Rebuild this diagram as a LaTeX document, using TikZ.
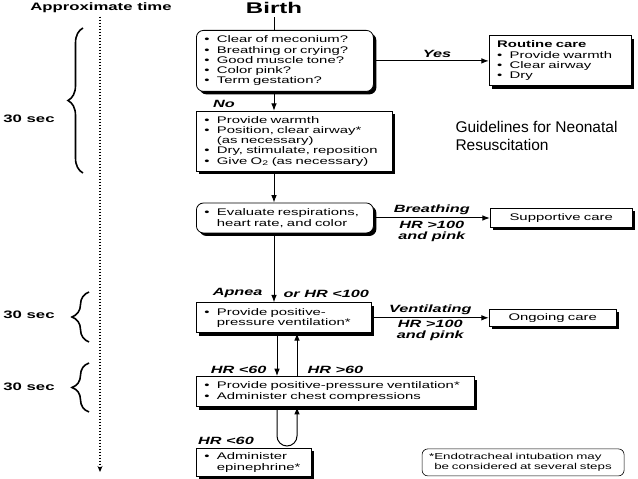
\documentclass[tikz,border=0pt]{standalone}
\usepackage{fontspec}
\setmainfont{Liberation Sans}[FakeStretch=1.55]
\newfontfamily\plainsans{Liberation Sans}
\usetikzlibrary{positioning, shadows, arrows.meta, decorations.pathreplacing, calc}

\newcommand{\bl}{\makebox[12.5pt][l]{\textbullet}}
\newcommand{\cont}{\hspace*{12.5pt}}

\begin{document}
\begin{tikzpicture}[
    x=1pt, y=1pt,
    >=LaTeX, % Use default LaTeX arrows
    % Styles
    stepbox/.style={
        rectangle,
        draw,
        line width=0.8pt,
        fill=white,
        align=left,
        inner xsep=8pt,
        inner ysep=2pt,
        font=\fontsize{9.6}{10.3}\selectfont,
        drop shadow={shadow xshift=3pt, shadow yshift=-3pt, fill=black, opacity=1}
    },
    roundbox/.style={ % Rounded decision box
        stepbox,
        rounded corners=2.5mm
    },
    outbox/.style={
        stepbox,
        align=center
    },
    lbl/.style={
        font=\fontsize{10.5}{10.5}\selectfont\bfseries\itshape,
        inner sep=1pt
    },
    heading/.style={
        font=\fontsize{10.8}{12}\selectfont\bfseries
    },
    arrow/.style={
        ->,
        line width=1pt
    },
    timebrace/.style={
        decorate,
        decoration={brace, amplitude=15pt},
        line width=1.6pt
    }
]
    \useasboundingbox (0,0) rectangle (638,479);

    % Headings
    \node[heading] (apx) at (101,471) {Approximate time};
    \node[font=\fontsize{15.5}{16}\selectfont\bfseries] (birth) at (274,471) {Birth};

    % Main column
    \node[roundbox, text width=161pt, minimum height=61pt, anchor=north west] (check) at (196,449) {%
        \bl Clear of meconium?\\ \bl Breathing or crying?\\ \bl Good muscle tone?\\ \bl Color pink?\\ \bl Term gestation?};
    \node[stepbox, text width=180pt, minimum height=60pt, below=19pt of check.south west, anchor=north west] (warm) {%
        \bl Provide warmth\\ \bl Position, clear airway*\\ \cont(as necessary)\\ \bl Dry, stimulate, reposition\\ \bl Give O\textsubscript{2} (as necessary)};
    \node[roundbox, text width=161pt, minimum height=30pt, below=31pt of warm.south west, anchor=north west] (eval) {%
        \bl Evaluate respirations,\\ \cont heart rate, and color};
    \node[stepbox, text width=159pt, minimum height=30pt, below=69pt of eval.south west, anchor=north west] (ppv) {%
        \bl Provide positive-\\ \cont pressure ventilation*};
    \node[stepbox, text width=262pt, minimum height=30pt, below=43pt of ppv.south west, anchor=north west] (cpr) {%
        \bl Provide positive-pressure ventilation*\\ \bl Administer chest compressions};
    \node[stepbox, text width=99pt, minimum height=28pt, below=41pt of cpr.south west, anchor=north west] (epi) {%
        \bl Administer\\ \cont epinephrine*};

    % Outcomes
    \node[stepbox, text width=126pt, minimum height=50pt, right=115pt of check] (routine) {%
        \textbf{Routine care}\\ \bl Provide warmth\\ \bl Clear airway\\ \bl Dry};
    \node[outbox, text width=126pt, minimum height=19pt, right=116pt of eval] (support) {Supportive care};
    \node[outbox, text width=111pt, minimum height=17pt, right=117pt of ppv] (ongoing) {Ongoing care};

    % Title and footnote
    \node[font=\plainsans\fontsize{15.5}{18}\selectfont, align=left, anchor=west] (title) at (452,343) {Guidelines for Neonatal\\Resuscitation};
    \node[draw, rounded corners=2mm, line width=0.6pt, align=left, font=\fontsize{8.6}{9.6}\selectfont,
        text width=188pt, minimum height=27pt, inner xsep=7pt, right=110pt of epi] (note) {%
        *Endotracheal intubation may\\ \phantom{*}be considered at several steps};

    % Connections
    \coordinate (dnx) at (277,0);
    \coordinate (upx) at (297,0);
    \coordinate (ubot) at ($(epi.north)+(0,12)$);

    \draw[line width=1pt] (birth) -- (birth |- check.north);
    \draw[arrow] (check.south -| birth) -- (warm.north -| birth);
    \draw[arrow] (warm.south -| birth) -- (eval.north -| birth);
    \draw[arrow] (eval.south -| birth) -- (ppv.north -| birth)
        node[lbl, pos=0.87, left=10pt] {Apnea}
        node[lbl, pos=0.87, right=8pt] {or HR <100};
    \draw[arrow] (ppv.south -| dnx) -- (cpr.north -| dnx)
        node[lbl, pos=0.86, left=9pt] {HR <60};
    \draw[arrow] (cpr.north -| upx) -- (ppv.south -| upx)
        node[lbl, pos=0.14, right=9pt] {HR >60};
    \draw[arrow] (cpr.south -| dnx) -- (ubot -| dnx) arc[start angle=180, end angle=360, radius=10] -- (cpr.south -| upx);
    \node[lbl, above right=2pt and 1pt of epi.north west] (hrlow) {HR <60};
    \node[lbl, above right=2pt and 16pt of warm.north west] (no) {No};

    \draw[arrow] (check.east) -- (check.east -| routine.west)
        node[lbl, above=2pt, pos=0.55] {Yes};
    \draw[arrow] (eval.east) -- (eval.east -| support.west)
        node[lbl, above=2pt, midway] {Breathing}
        node[lbl, below=2pt, midway, align=center] {HR >100\\and pink};
    \draw[arrow] (ppv.east) -- (ppv.east -| ongoing.west)
        node[lbl, above=2pt, midway] {Ventilating}
        node[lbl, below=1pt, midway, align=center] {HR >100\\and pink};

    % Time line
    \coordinate (tend) at (100,7);
    \draw[line width=1.5pt, dash pattern=on 1.5pt off 1.5pt, -{Stealth[length=6pt, width=5pt]}] (apx.south -| tend) -- (tend);

    % Time braces
    \coordinate (br1a) at (83,306);
    \coordinate (br1b) at (83,451);
    \coordinate (br2a) at (89,137);
    \coordinate (br2b) at (89,187);
    \coordinate (br3a) at (89,67);
    \coordinate (br3b) at (89,116);
    \draw[timebrace] (br1a) -- (br1b);
    \draw[timebrace, decoration={amplitude=17pt}] (br2a) -- (br2b);
    \draw[timebrace, decoration={amplitude=17pt}] (br3a) -- (br3b);
    \node[heading] (sec1) at (29,360) {30 sec};
    \node[heading] (sec2) at (29,164) {30 sec};
    \node[heading] (sec3) at (29,92) {30 sec};
\end{tikzpicture}
\end{document}
